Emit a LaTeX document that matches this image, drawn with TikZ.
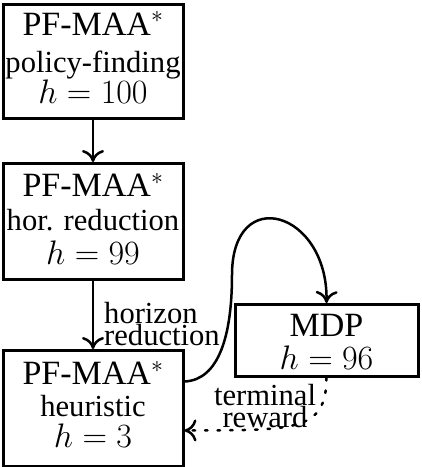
\RequirePackage{fix-cm}
\documentclass[tikz,border=0pt]{standalone}
\usepackage[no-math]{fontspec}
\setmainfont{Liberation Serif}
\usetikzlibrary{arrows.meta}
\newcommand{\smalltxt}[1]{{\fontsize{30.6}{30}\selectfont #1}}
\begin{document}
\begin{tikzpicture}[x=1pt,y=1pt,
  box/.style={draw, line width=3pt, inner sep=0pt, align=center, anchor=north},
  lbl/.style={inner sep=0pt, font=\fontsize{30.6}{21}\selectfont},
  arr/.style={line width=2.5pt, -{To[length=12pt,width=22pt]}},
  dotarr/.style={line width=2.5pt, dash pattern=on 2.5pt off 10pt, line cap=round, -{To[length=12pt,width=22pt]}}
]
\useasboundingbox (0,0) rectangle (422,-467);
\node[box, minimum width=180, text height=99, text depth=15, font=\fontsize{34}{30}\selectfont] (pf) at (93,-3) {PF-MAA$^*$\\[7pt]\smalltxt{policy-finding}\\$h=100$};
\node[box, minimum width=180, text height=101, text depth=15, font=\fontsize{34}{34}\selectfont] (hr) at (93,-162) {PF-MAA$^*$\\\smalltxt{hor. reduction}\\$h=99$};
\node[box, minimum width=180, text height=97, text depth=19, font=\fontsize{34}{31}\selectfont] (he) at (93,-349) {PF-MAA$^*$\\[1pt]\smalltxt{heuristic}\\$h=3$};
\node[box, minimum width=183, text height=65, text depth=7, font=\fontsize{34}{33}\selectfont] (mdp) at (326.5,-303) {MDP\\$h=96$};
\draw[arr] (pf.south) -- (hr.north);
\draw[arr] (hr.south) -- (he.north);
\node[lbl, anchor=west, align=left] (hlab) at (104,-324) {horizon\\reduction};
\coordinate (mid) at (232,-275);
\draw[arr] ([yshift=27pt]he.east) .. controls (219,-380) and (232,-335) .. (mid)
  .. controls (232,-183) and (328,-211) .. (mdp.north);
\draw[dotarr] (mdp.south) .. controls (326,-432) and (295,-430) .. ([yshift=-22pt]he.east);
\node[lbl, align=center] (tlab) at (265,-406) {terminal\\reward};
\end{tikzpicture}
\end{document}
